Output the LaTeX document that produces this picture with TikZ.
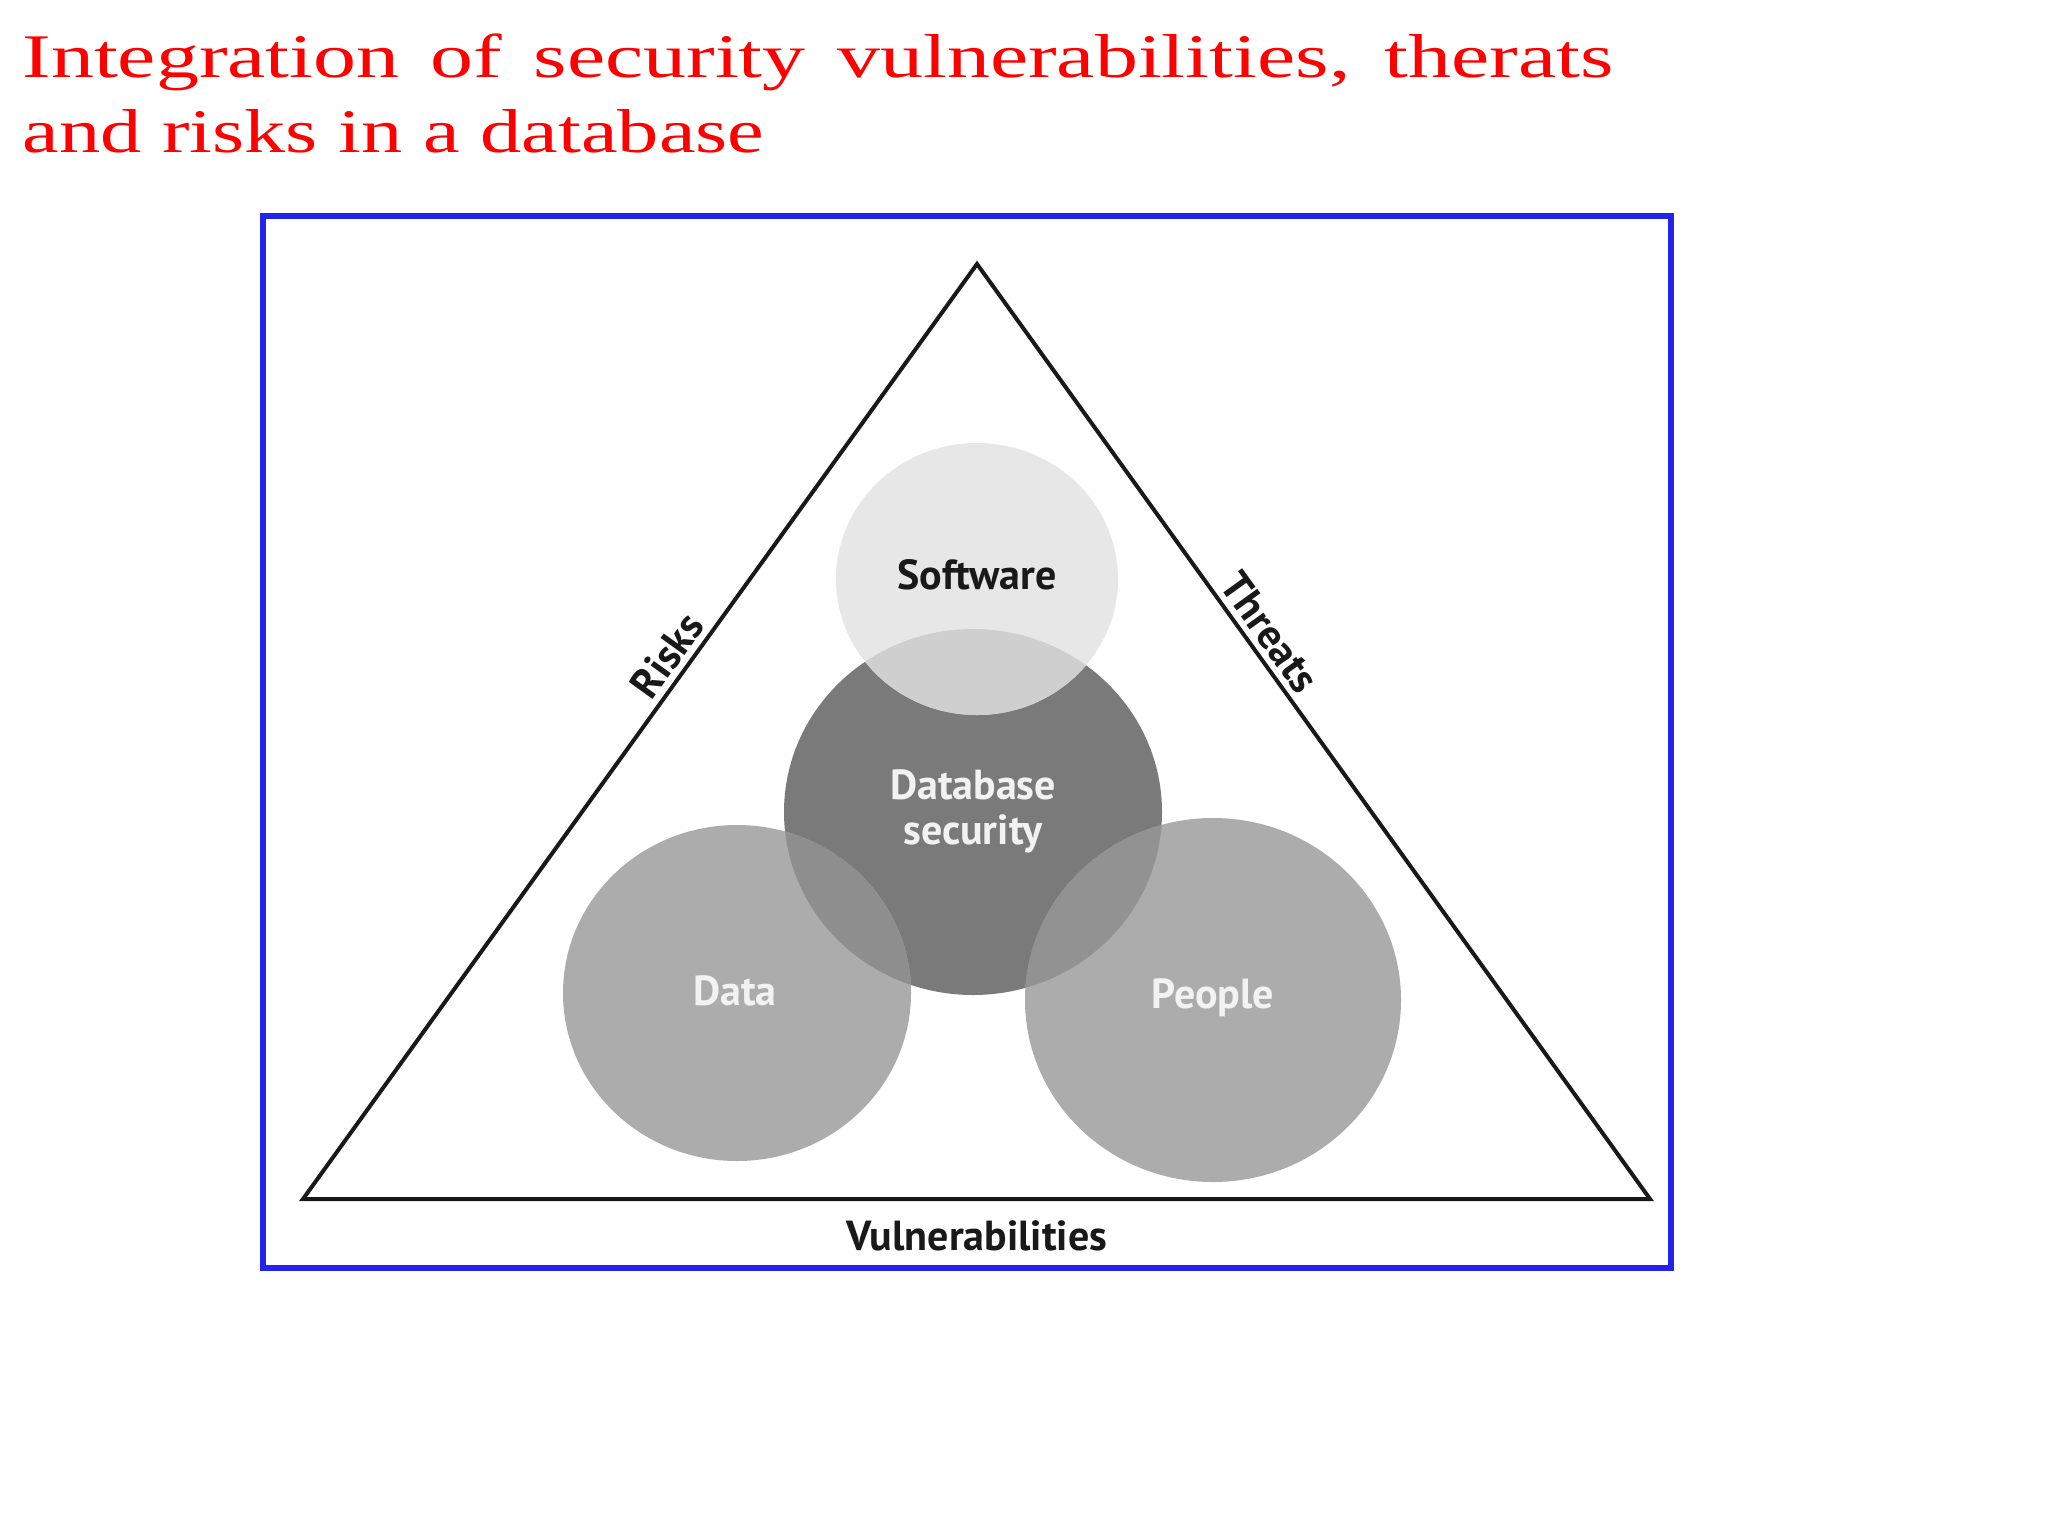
\documentclass[tikz,border=0pt]{standalone}
\usepackage{graphicx}
\usepackage{fontspec}
\setmainfont{Liberation Serif}
\newfontfamily\labelfont{PT Sans}
\definecolor{framec}{RGB}{35,35,235}
\definecolor{titlec}{RGB}{255,0,0}
\definecolor{swc}{RGB}{231,231,231}
\definecolor{dbc}{RGB}{122,122,122}
\definecolor{outc}{RGB}{172,172,172}
\definecolor{swdb}{RGB}{207,207,207}
\definecolor{dadb}{RGB}{142,142,142}
\definecolor{pedb}{RGB}{146,146,146}
\definecolor{darktext}{RGB}{25,25,25}
\definecolor{lighttext}{RGB}{242,242,242}
\begin{document}
\begin{tikzpicture}[x=0.5pt,y=-0.5pt,
  frame/.style={draw=framec, line width=3pt},
  edge/.style={draw=black!90, line width=2pt, line join=miter},
  sidelabel/.style={font=\labelfont\bfseries\fontsize{21pt}{25pt}\selectfont, text=darktext, inner sep=0pt},
  innerlabel/.style={font=\labelfont\bfseries\fontsize{21pt}{22.5pt}\selectfont, text=lighttext, align=center, inner sep=0pt},
  titletext/.style={font=\fontsize{31pt}{37pt}\selectfont, text=titlec, inner sep=0pt, anchor=base west}]
\useasboundingbox[fill=white] (0,0) rectangle (2048,1536);
% title
\node[titletext] (t1) at (22,78) {\scalebox{1.387}[1]{\makebox[573.5pt][s]{Integration of security vulnerabilities, therats}}};
\node[titletext] (t2) at (22,152) {\scalebox{1.33}[1]{and risks in a database}};
% frame
\draw[frame] (263,216) rectangle (1671,1268);
% circles
\fill[dbc] (973,812) ellipse [x radius=189, y radius=183];
\fill[outc] (737,993) ellipse [x radius=174, y radius=168];
\fill[outc] (1213,1000) ellipse [x radius=188, y radius=182];
\fill[swc] (977,579) ellipse [x radius=141, y radius=136];
\begin{scope}
  \clip (973,812) ellipse [x radius=189, y radius=183];
  \fill[dadb] (737,993) ellipse [x radius=174, y radius=168];
  \fill[pedb] (1213,1000) ellipse [x radius=188, y radius=182];
  \fill[swdb] (977,579) ellipse [x radius=141, y radius=136];
\end{scope}
% triangle
\coordinate (apex) at (977,264);
\coordinate (bl) at (303,1199);
\coordinate (br) at (1650,1199);
\draw[edge] (apex) -- (bl) -- (br) -- cycle;
% labels
\node[sidelabel, rotate=54.25] (risks) at (667,655) {Risks};
\node[sidelabel, rotate=-54.25] (threats) at (1270,632) {Threats};
\node[sidelabel] (vuln) at (977,1236) {Vulnerabilities};
\node[sidelabel] (sw) at (977,575) {Software};
\node[innerlabel] (db) at (973,811) {Database\\security};
\node[innerlabel] (data) at (735,991) {Data};
\node[innerlabel] (people) at (1213,998) {People};
\end{tikzpicture}
\end{document}
